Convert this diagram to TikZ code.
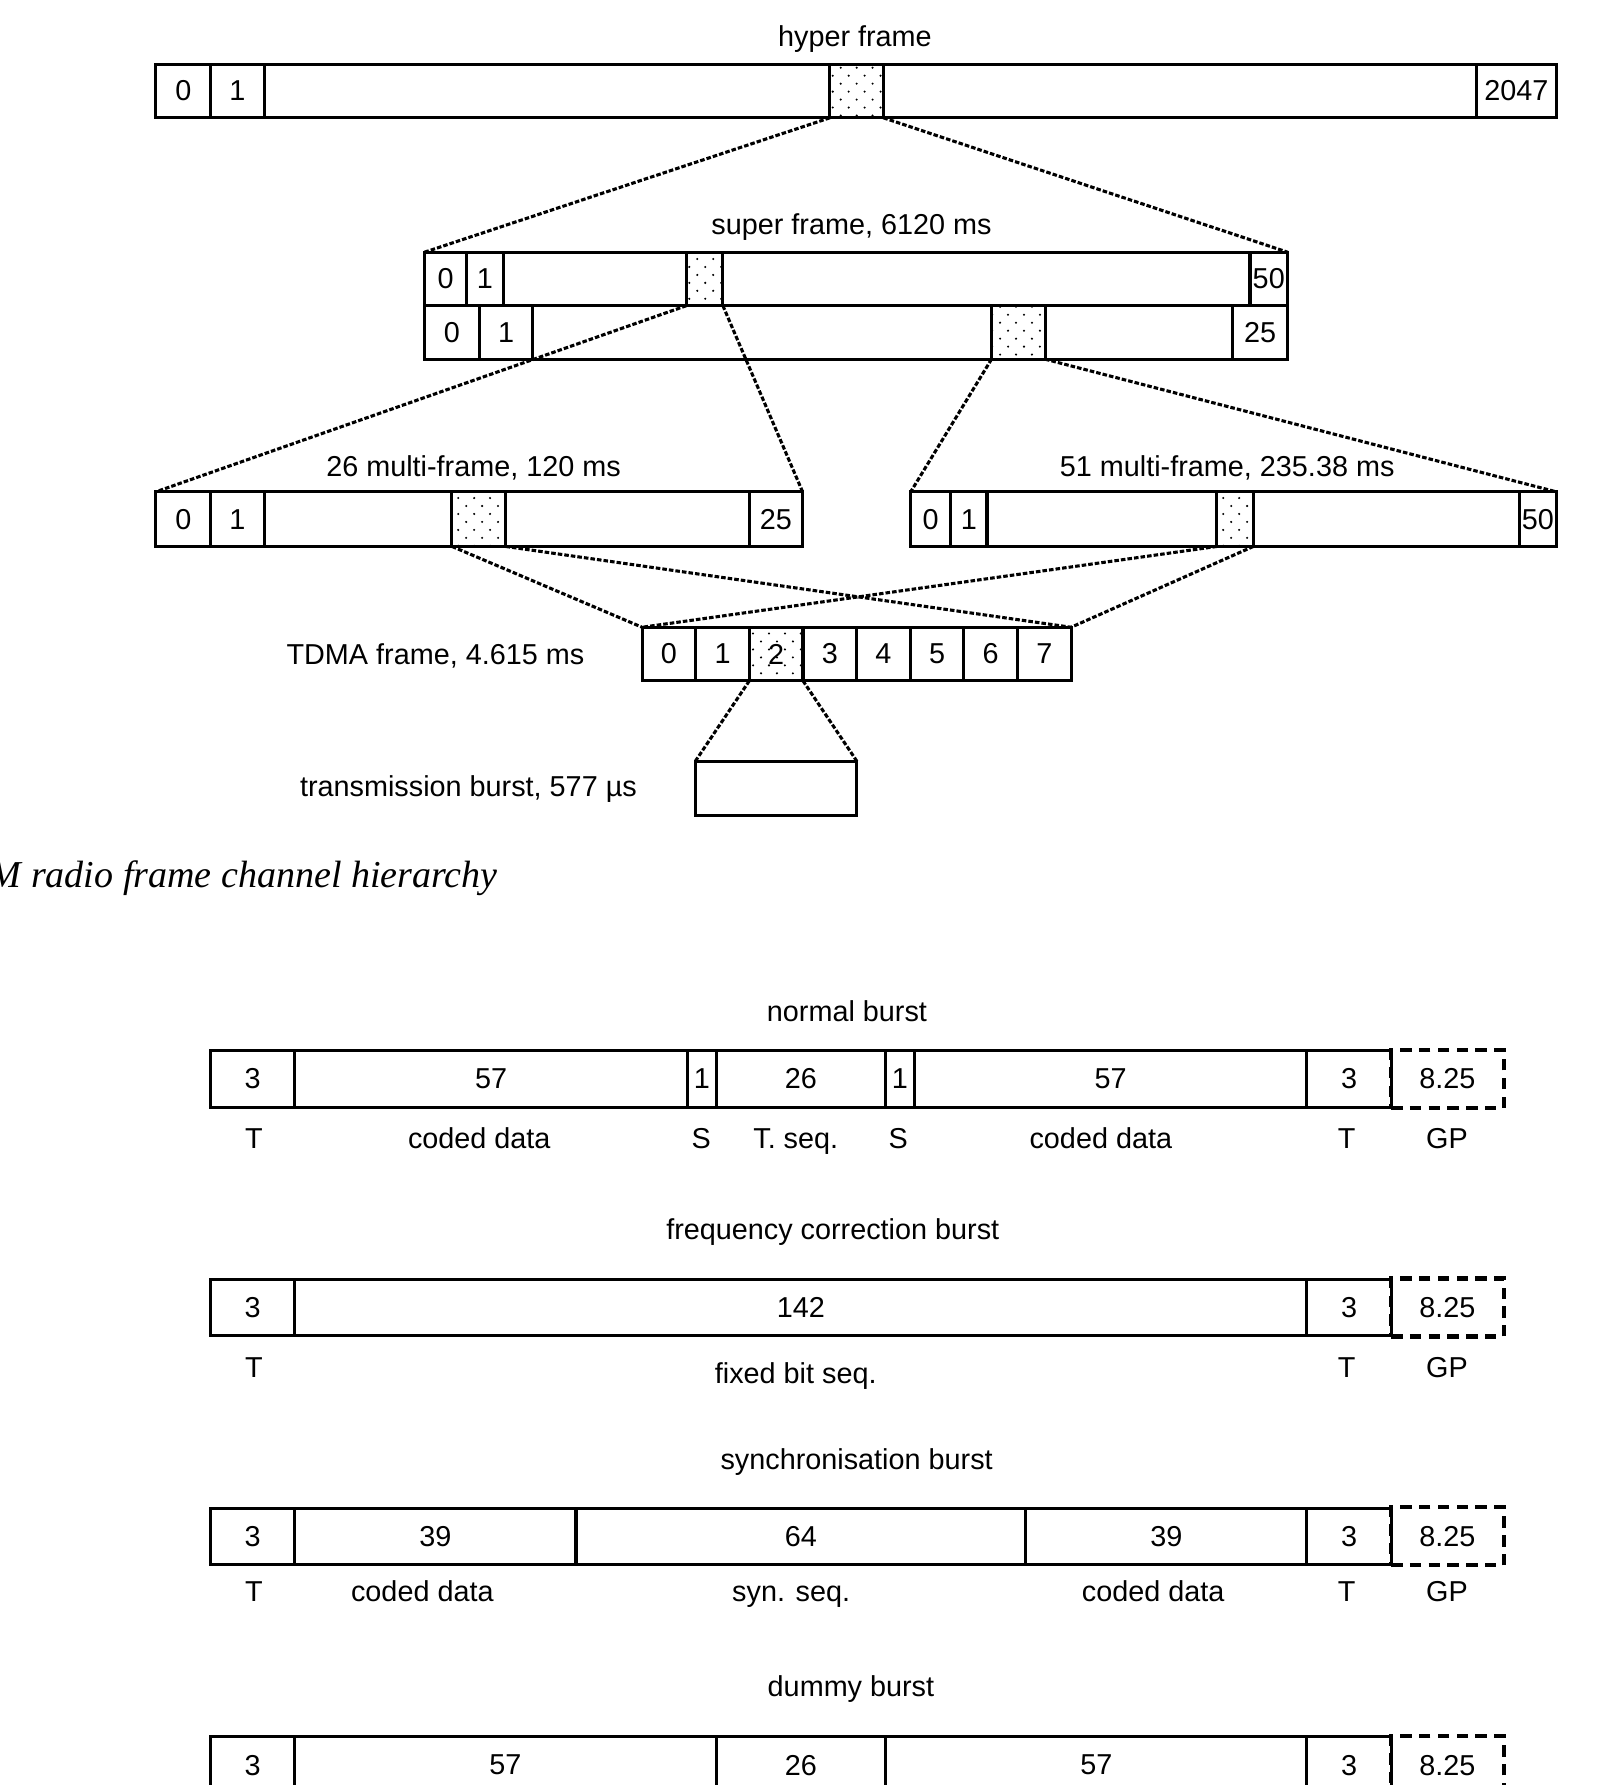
\documentclass[tikz,border=0pt]{standalone}
\usepackage{fontspec}
\setmainfont{Liberation Sans}
\newfontfamily\capfont{Liberation Serif}
\usetikzlibrary{patterns,positioning}
\newcommand{\gsmfont}{\fontsize{25.3}{30}\selectfont}
\pgfdeclarepatternformonly{gsmdots}{\pgfpoint{-1pt}{-1pt}}{\pgfpoint{15pt}{15pt}}{\pgfpoint{14pt}{14pt}}{%
  \pgfpathcircle{\pgfpoint{3.5pt}{3.5pt}}{1pt}%
  \pgfpathcircle{\pgfpoint{10.5pt}{10.5pt}}{1pt}%
  \pgfusepath{fill}}
\tikzset{
  cell/.style={draw,line width=2.7pt,minimum height=47,inner sep=0pt,outer sep=0pt},
  dotcell/.style={cell,pattern=gsmdots},
  gpcell/.style={draw,line width=3.8pt,dash pattern=on 10pt off 6.5pt,minimum height=51,minimum width=99,inner sep=0pt,outer sep=0pt},
  link/.style={line width=2.7pt,dash pattern=on 4pt off 1.8pt},
  lbl/.style={anchor=base,inner sep=0pt}
}

\begin{document}
\begin{tikzpicture}[x=1pt,y=-1pt,font=\gsmfont]
		\useasboundingbox (0,0) rectangle (1403,1568);
		% hyper frame
		\node[lbl] (hftitle) at (751,41) {hyper frame};
		\foreach \a/\b/\t/\s [count=\i] in {137/185/0/cell,185/232/1/cell,232/729/{}/cell,729/776/{}/dotcell,776/1297/{}/cell,1297/1367/2047/cell}
			\node[\s,minimum width=\b-\a] (hf\i) at ({(\a+\b)/2},80) {\t};
		% super frame, two rows
		\node[lbl] (sftitle) at (748,206) {super frame, 6120 ms};
		\foreach \a/\b/\t/\s [count=\i] in {373/410/0/cell,410/442/1/cell,442/603/{}/cell,603/635/{}/dotcell,635/1098/{}/cell,1098/1131/50/cell}
			\node[\s,minimum width=\b-\a] (sfa\i) at ({(\a+\b)/2},245) {\t};
		\foreach \a/\b/\t/\s [count=\i] in {373/421/0/cell,421/468/1/cell,468/871/{}/cell,871/918/{}/dotcell,918/1083/{}/cell,1083/1131/25/cell}
			\node[\s,minimum width=\b-\a] (sfb\i) at ({(\a+\b)/2},292) {\t};
		% multi-frames
		\node[lbl] (mfatitle) at (416,419) {26 multi-frame, 120 ms};
		\foreach \a/\b/\t/\s [count=\i] in {137/185/0/cell,185/232/1/cell,232/397/{}/cell,397/444/{}/dotcell,444/658/{}/cell,658/705/25/cell}
			\node[\s,minimum width=\b-\a,minimum height=48] (mfa\i) at ({(\a+\b)/2},456) {\t};
		\node[lbl] (mfbtitle) at (1078,419) {51 multi-frame, 235.38 ms};
		\foreach \a/\b/\t/\s [count=\i] in {800/835/0/cell,835/867/1/cell,867/1069/{}/cell,1069/1101/{}/dotcell,1101/1335/{}/cell,1335/1367/50/cell}
			\node[\s,minimum width=\b-\a,minimum height=48] (mfb\i) at ({(\a+\b)/2},456) {\t};
		% TDMA frame and burst
		\node[lbl] (tdmatitle) at (382.5,584) {TDMA frame, 4.615 ms};
		\foreach \t/\s in {0/cell,1/cell,2/dotcell,3/cell,4/cell,5/cell,6/cell,7/cell}
			\node[\s,minimum width=47.1] (tdma\t) at ({587.6+47.1*\t},574.5) {\t};
		\node[lbl] (tbtitle) at (411.5,700) {transmission burst, 577 µs};
		\node[cell,minimum width=142,minimum height=47.5] (tb) at (681.75,692.5) {};
		% zoom lines
		\draw[link] (hf4.south west) -- (sfa1.north west);
		\draw[link] (hf4.south east) -- (sfa6.north east);
		\draw[link] (sfa4.south west) -- (mfa1.north west);
		\draw[link] (sfa4.south east) -- (mfa6.north east);
		\draw[link] (sfb4.south west) -- (mfb1.north west);
		\draw[link] (sfb4.south east) -- (mfb6.north east);
		\draw[link] (mfa4.south west) -- (tdma0.north west);
		\draw[link] (mfa4.south east) -- (tdma7.north east);
		\draw[link] (mfb4.south west) -- (tdma0.north west);
		\draw[link] (mfb4.south east) -- (tdma7.north east);
		\draw[link] (tdma2.south west) -- (tb.north west);
		\draw[link] (tdma2.south east) -- (tb.north east);
		\node[anchor=base west,inner sep=0pt,font=\capfont\itshape\fontsize{33.4}{40}\selectfont] (caption) at (-9,780) {M radio frame channel hierarchy};
		% normal burst
		\node[lbl] (nbtitle) at (744,897) {normal burst};
		\foreach \a/\b/\t [count=\i] in {185/259/3,259/604/57,604/629/1,629/778/26,778/803/1,803/1148/57,1148/1222/3}
			\node[cell,minimum height=49.5,minimum width=\b-\a] (nb\i) at ({(\a+\b)/2},947.7) {\t};
		\node[gpcell] (nbgp) at (1271.5,947.7) {8.25};
		\foreach \x/\t [count=\i] in {223/T,421/coded data,616/S,699/T. seq.,789/S,967/coded data,1183/T,1271/GP}
			\node[lbl] (nbl\i) at (\x,1009) {\t};
		% frequency correction burst
		\node[lbl] (fbtitle) at (731.5,1089) {frequency correction burst};
		\foreach \a/\b/\t [count=\i] in {185/259/3,259/1148/142,1148/1222/3}
			\node[cell,minimum height=49.5,minimum width=\b-\a] (fb\i) at ({(\a+\b)/2},1148.5) {\t};
		\node[gpcell] (fbgp) at (1271.5,1148.5) {8.25};
		\foreach \x/\t [count=\i] in {223/T,1183/T,1271/GP}
			\node[lbl] (fbl\i) at (\x,1210) {\t};
		\node[lbl] (fbseq) at (699,1215) {fixed bit seq.};
		% synchronisation burst
		\node[lbl] (sbtitle) at (752.5,1291) {synchronisation burst};
		\foreach \a/\b/\t [count=\i] in {185/259/3,259/506/39,506/901/64,901/1148/39,1148/1222/3}
			\node[cell,minimum height=49.5,minimum width=\b-\a] (sb\i) at ({(\a+\b)/2},1349.5) {\t};
		\node[gpcell] (sbgp) at (1271.5,1349.5) {8.25};
		\foreach \x/\t [count=\i] in {223/T,371/coded data,695/syn. seq.,1013/coded data,1183/T,1271/GP}
			\node[lbl] (sbl\i) at (\x,1407) {\t};
		% dummy burst
		\node[lbl] (dbtitle) at (747.5,1490) {dummy burst};
		\foreach \a/\b/\t [count=\i] in {185/259/3,259/629/57,629/778/26,778/1148/57,1148/1222/3}
			\node[cell,minimum height=49.5,minimum width=\b-\a] (db\i) at ({(\a+\b)/2},1550.5) {\t};
		\node[gpcell] (dbgp) at (1271.5,1550.5) {8.25};
\end{tikzpicture}
\end{document}
